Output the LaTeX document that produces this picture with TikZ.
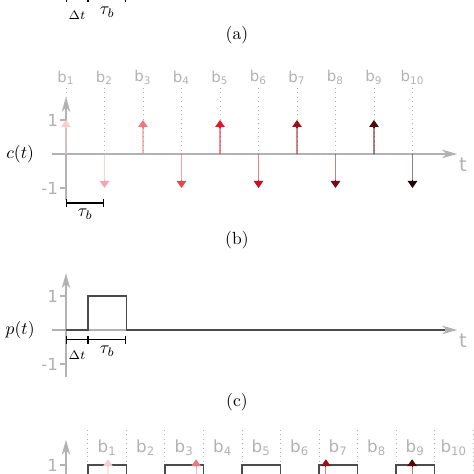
\documentclass[tikz,border=0pt]{standalone}
\usepackage{fontspec}
\newfontfamily\axisfont{DejaVu Sans}
\usetikzlibrary{
    arrows.meta,
    positioning
}
\definecolor{axisgray}{RGB}{178,178,178}
\definecolor{pulsegray}{RGB}{75,75,75}
\definecolor{chipred}{RGB}{228,22,36}
\colorlet{bit1}{chipred!22}
\colorlet{bit2}{chipred!38}
\colorlet{bit3}{chipred!58}
\colorlet{bit4}{chipred!80}
\colorlet{bit5}{chipred}
\colorlet{bit6}{chipred!85!black}
\colorlet{bit7}{chipred!68!black}
\colorlet{bit8}{chipred!52!black}
\colorlet{bit9}{chipred!35!black}
\colorlet{bit10}{chipred!14!black}

\begin{document}
\begin{tikzpicture}[x=0.77cm, y=0.68cm,
    axis/.style={axisgray, line width=0.6pt, -{Stealth[length=3mm,width=1.7mm,inset=0.9mm]}},
    ytick/.style={axisgray, line width=0.6pt},
    ticklbl/.style={axisgray, font=\axisfont\fontsize{9.5}{10}\selectfont, anchor=east, inner sep=1pt},
    binlbl/.style={axisgray, font=\axisfont\fontsize{8.5}{9}\selectfont},
    tlbl/.style={axisgray, font=\axisfont\fontsize{11}{12}\selectfont},
    binsep/.style={axisgray, dotted, line width=0.5pt},
    dimline/.style={line width=0.7pt, {Bar[width=4.5pt]}-{Bar[width=4.5pt]}},
    chip/.style={line width=0.7pt, opacity=.5},
    chiphead/.style={line width=0.7pt, -{Triangle[length=1.4mm,width=1.9mm]}}
]
    \useasboundingbox (-1.714,-9.412) rectangle (10.597,4.529);
    \clip (-1.714,-9.412) rectangle (10.597,4.529);

    % (a), only its lower edge
    \draw[dimline, {Bar[width=9pt]}-{Bar[width=9pt]}] (0,4.7) -- node[below=6.2pt] (dta) {\scriptsize$\Delta t$} (0.57,4.7);
    \draw[dimline, {Bar[width=9pt]}-{Bar[width=9pt]}] (0.57,4.7) -- node[below=3.7pt] (tba) {$\tau_b$} (1.57,4.7);
    \node (capa) at (4.44,3.5) {(a)};

    % (b) c(t)
    \foreach \x/\i in {0/1,1/2,2/3,3/4,4/5,5/6,6/7,7/8,8/9,9/10} {
        \draw[binsep] (\x,1.94) -- (\x,0);
        \node[binlbl] (bb-\i) at (\x,2.24) {b\textsubscript{\i}};
    }
    \draw[axis] (-0.36,0) -- (10.16,0);
    \draw[axis] (0,-1.35) -- (0,1.68);
    \draw[ytick] (-0.15,1) -- (0.03,1);
    \draw[ytick] (-0.15,-1) -- (0.03,-1);
    \node[ticklbl] (b-one) at (-0.15,1) {1};
    \node[ticklbl] (b-mone) at (-0.15,-1) {-1};
    \node[tlbl] (b-t) at (10.31,-0.32) {t};
    \node (ct) at (-1.19,0) {$c(t)$};
    \foreach \x/\i/\s in {0/1/1,1/2/-1,2/3/1,3/4/-1,4/5/1,5/6/-1,6/7/1,7/8/-1,8/9/1,9/10/-1} {
        \draw[chip, bit\i] (\x,0) -- (\x,0.8*\s);
        \draw[chiphead, bit\i] (\x,0.76*\s) -- (\x,\s);
    }
    \draw[dimline] (0,-1.44) -- node[below=0pt] (tbb) {$\tau_b$} (1,-1.44);
    \node (capb) at (4.44,-2.53) {(b)};

    % (c) p(t)
    \begin{scope}[shift={(0,-5.176)}]
        \draw[axis] (-0.36,0) -- (10.16,0);
        \draw[axis] (0,-1.38) -- (0,1.67);
        \draw[ytick] (-0.15,1) -- (0.03,1);
        \draw[ytick] (-0.15,-1) -- (0.03,-1);
        \node[ticklbl] (c-one) at (-0.15,1) {1};
        \node[ticklbl] (c-mone) at (-0.15,-1) {-1};
        \node[tlbl] (c-t) at (10.31,-0.32) {t};
        \node (pt) at (-1.19,0) {$p(t)$};
        \draw[pulsegray, line width=0.7pt] (0,0) -- (0.57,0) -- (0.57,1) -- (1.57,1) -- (1.57,0) -- (9.85,0);
        \draw[dimline] (0,-0.29) -- node[below=3pt] (dtc) {\scriptsize$\Delta t$} (0.57,-0.29);
        \draw[dimline] (0.57,-0.29) -- node[below=0pt] (tbc) {$\tau_b$} (1.57,-0.29);
        \node (capc) at (4.44,-2.12) {(c)};
    \end{scope}

    % (d), only its upper edge
    \begin{scope}[shift={(0,-10.147)}]
        \foreach \x in {0.57,1.57,...,10.57}
            \draw[binsep] (\x,2.03) -- (\x,0);
        \foreach \x/\i in {1.07/1,2.07/2,3.07/3,4.07/4,5.07/5,6.07/6,7.07/7,8.07/8,9.07/9,10.07/10}
            \node[binlbl, font=\axisfont\fontsize{9.5}{10}\selectfont] (db-\i) at (\x,1.5) {b\textsubscript{\i}};
        \draw[axis] (0,-1.4) -- (0,1.74);
        \draw[ytick] (-0.15,1) -- (0.03,1);
        \node[ticklbl] (d-one) at (-0.15,1) {1};
        \foreach \x in {0.57,2.57,4.57,6.57,8.57}
            \draw[pulsegray, line width=0.7pt] (\x,0) -- (\x,1) -- (\x+1,1) -- (\x+1,0);
        \foreach \x/\i in {1.09/1,3.38/3,6.75/7,8.99/9} {
            \draw[chip, bit\i] (\x,0) -- (\x,0.97);
            \draw[chiphead, bit\i] (\x,0.93) -- (\x,1.17);
        }
    \end{scope}
\end{tikzpicture}
\end{document}
